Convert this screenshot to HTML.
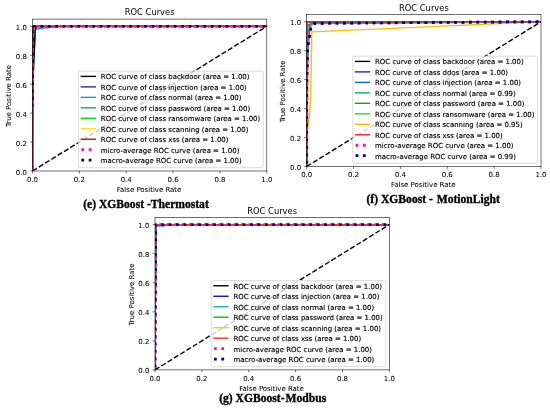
<!DOCTYPE html>
<html><head><meta charset="utf-8"><title>ROC Curves</title>
<style>html,body{margin:0;padding:0;background:#fff;}svg{display:block;}</style>
</head><body>
<svg width="550" height="409" viewBox="0 0 550 409">
<rect width="550" height="409" fill="#fff"/>
<clipPath id="ce"><rect x="32.5" y="19.1" width="234.3" height="151.9"/></clipPath>
<g clip-path="url(#ce)" fill="none" stroke-linejoin="round">
<path d="M32.5 171 L32.5 113.13 L33.44 69.73 L35.31 29.23 L46.56 27.78 L55.93 26.77 L62.96 26.33 L266.8 26.33" stroke="#0a96e8" stroke-width="1.39" stroke-linecap="square"/>
<path d="M32.5 171 L32.5 113.13 L33.44 69.73 L35.31 28.5 L37.19 26.33 L44.22 26.33" stroke="#000000" stroke-width="1.39" stroke-linecap="square"/>
<path d="M32.5 171 L32.5 26.33 L266.8 26.33" stroke="#fae600" stroke-width="1.39" stroke-linecap="square"/>
<path d="M32.5 171 L32.5 26.33 L266.8 26.33" stroke="#00e600" stroke-width="1.39" stroke-linecap="square"/>
<path d="M32.5 171 L32.97 84.2 L33.44 27.06 L37.19 26.33 L266.8 26.33" stroke="#14aa46" stroke-width="1.39" stroke-linecap="square"/>
<path d="M32.5 171 L32.73 27.78 L33.67 26.33 L266.8 26.33" stroke="#3420b0" stroke-width="1.39" stroke-linecap="square"/>
<path d="M32.5 171 L32.5 26.33 L266.8 26.33" stroke="#f00000" stroke-width="1.39" stroke-linecap="square"/>
<path d="M32.5 171 L32.5 26.33 L266.8 26.33" stroke="#ff1493" stroke-width="2.78" stroke-dasharray="2.8 4.61" stroke-dashoffset="5.81"/>
<path d="M32.5 105.9 L32.5 26.33 L266.8 26.33" stroke="#000080" stroke-width="2.78" stroke-dasharray="2.8 4.61" stroke-dashoffset="1.43"/>
<path d="M32.5 171 L266.8 26.33" stroke="#000" stroke-width="1.39" stroke-dasharray="5.17 2.24"/>
</g>
<rect x="32.5" y="19.1" width="234.3" height="151.9" fill="none" stroke="#000" stroke-width="0.56"/>
<path d="M32.5 171 v2.44 M32.5 171 h-2.44 M79.36 171 v2.44 M32.5 142.07 h-2.44 M126.22 171 v2.44 M32.5 113.13 h-2.44 M173.08 171 v2.44 M32.5 84.2 h-2.44 M219.94 171 v2.44 M32.5 55.27 h-2.44 M266.8 171 v2.44 M32.5 26.33 h-2.44" stroke="#000" stroke-width="0.56" fill="none"/>
<g font-family="'DejaVu Sans', 'Liberation Sans', sans-serif" font-size="6.96" fill="#000" stroke="#000" stroke-width="0.06">
<text x="32.5" y="181.8" text-anchor="middle">0.0</text>
<text x="26.93" y="174.5" text-anchor="end">0.0</text>
<text x="79.36" y="181.8" text-anchor="middle">0.2</text>
<text x="26.93" y="145.57" text-anchor="end">0.2</text>
<text x="126.22" y="181.8" text-anchor="middle">0.4</text>
<text x="26.93" y="116.63" text-anchor="end">0.4</text>
<text x="173.08" y="181.8" text-anchor="middle">0.6</text>
<text x="26.93" y="87.7" text-anchor="end">0.6</text>
<text x="219.94" y="181.8" text-anchor="middle">0.8</text>
<text x="26.93" y="58.77" text-anchor="end">0.8</text>
<text x="266.8" y="181.8" text-anchor="middle">1.0</text>
<text x="26.93" y="29.83" text-anchor="end">1.0</text>
<text x="149.05" y="191.7" text-anchor="middle">False Positive Rate</text>
<text transform="translate(11 95.95) rotate(-90)" text-anchor="middle">True Positive Rate</text>
</g>
<text x="149.65" y="15.3" text-anchor="middle" font-family="'DejaVu Sans', 'Liberation Sans', sans-serif" font-size="8.35">ROC Curves</text>
<rect x="78.57" y="71.19" width="184.63" height="96.54" rx="1.4" fill="#fff" fill-opacity="0.8" stroke="#ccc" stroke-width="0.7"/>
<g font-family="'DejaVu Sans', 'Liberation Sans', sans-serif" font-size="6.96" fill="#000" stroke="#000" stroke-width="0.15">
<path d="M81.35 76.39 H95.27" stroke="#000000" stroke-width="1.39" fill="none" stroke-linecap="square"/>
<text x="100.84" y="79.29">ROC curve of class backdoor (area = 1.00)</text>
<path d="M81.35 86.87 H95.27" stroke="#3420b0" stroke-width="1.39" fill="none" stroke-linecap="square"/>
<text x="100.84" y="89.77">ROC curve of class injection (area = 1.00)</text>
<path d="M81.35 97.35 H95.27" stroke="#0a96e8" stroke-width="1.39" fill="none" stroke-linecap="square"/>
<text x="100.84" y="100.25">ROC curve of class normal (area = 1.00)</text>
<path d="M81.35 107.83 H95.27" stroke="#14aa46" stroke-width="1.39" fill="none" stroke-linecap="square"/>
<text x="100.84" y="110.73">ROC curve of class password (area = 1.00)</text>
<path d="M81.35 118.31 H95.27" stroke="#00e600" stroke-width="1.39" fill="none" stroke-linecap="square"/>
<text x="100.84" y="121.21">ROC curve of class ransomware (area = 1.00)</text>
<path d="M81.35 128.79 H95.27" stroke="#fae600" stroke-width="1.39" fill="none" stroke-linecap="square"/>
<text x="100.84" y="131.69">ROC curve of class scanning (area = 1.00)</text>
<path d="M81.35 139.27 H95.27" stroke="#f00000" stroke-width="1.39" fill="none" stroke-linecap="square"/>
<text x="100.84" y="142.17">ROC curve of class xss (area = 1.00)</text>
<path d="M81.35 149.75 H95.27" stroke="#ff1493" stroke-width="2.78" fill="none" stroke-dasharray="2.78 4.59"/>
<text x="100.84" y="152.65">micro-average ROC curve (area = 1.00)</text>
<path d="M81.35 160.23 H95.27" stroke="#000080" stroke-width="2.78" fill="none" stroke-dasharray="2.78 4.59"/>
<text x="100.84" y="163.13">macro-average ROC curve (area = 1.00)</text>
</g>
<text x="83.2" y="207.6" font-family="'Liberation Serif', 'Times New Roman', serif" font-weight="bold" font-size="11.6" stroke="#000" stroke-width="0.35" xml:space="preserve">(e) XGBoost -Thermostat</text>
<clipPath id="cf"><rect x="306.7" y="14.5" width="234.3" height="152"/></clipPath>
<g clip-path="url(#cf)" fill="none" stroke-linejoin="round">
<path d="M306.7 166.5 L306.7 21.74 L541 21.74" stroke="#000000" stroke-width="1.39" stroke-linecap="square"/>
<path d="M306.7 166.5 L306.7 21.74 L541 21.74" stroke="#4a14b4" stroke-width="1.39" stroke-linecap="square"/>
<path d="M306.7 166.5 L306.7 21.74 L541 21.74" stroke="#0a64e6" stroke-width="1.39" stroke-linecap="square"/>
<path d="M306.7 166.5 L306.7 21.74 L541 21.74" stroke="#14e614" stroke-width="1.39" stroke-linecap="square"/>
<path d="M306.7 166.5 L306.7 130.31 L307.5 127.56 L308.57 121.62 L309.51 114.82 L310.21 105.7 L310.68 96.58 L311.32 59.96 L311.81 31.87 L541 21.74" stroke="#fabe00" stroke-width="1.39" stroke-linecap="square"/>
<path d="M306.7 166.5 L306.7 94.12 L307.4 50.69 L310.45 25.36 L313.73 23.19 L320.76 21.74 L541 21.74" stroke="#14a014" stroke-width="1.39" stroke-linecap="square"/>
<path d="M306.7 166.5 L306.7 94.12 L309.04 26.08 L310.21 23.48 L376.99 23.19 L541 21.74" stroke="#0aaa8c" stroke-width="1.39" stroke-linecap="square"/>
<path d="M306.7 166.5 L306.7 21.74 L541 21.74" stroke="#f01e1e" stroke-width="1.39" stroke-linecap="square"/>
<path d="M306.7 166.5 L306.7 86.88 L307.64 47.8 L310.92 26.8 L314.43 23.48 L330.13 23.19 L541 21.74" stroke="#ff1493" stroke-width="2.78" stroke-dasharray="2.8 4.61" stroke-dashoffset="4.49"/>
<path d="M306.7 166.5 L307.17 36.21 L308.11 23.91" stroke="#ff1493" stroke-width="2.78" stroke-dasharray="2.8 4.61" stroke-dashoffset="0.14"/>
<path d="M306.7 166.5 L306.7 86.88 L307.64 47.8 L310.92 26.8 L314.43 23.48 L330.13 23.19 L541 21.74" stroke="#000080" stroke-width="2.78" stroke-dasharray="2.8 4.61" stroke-dashoffset="4.49"/>
<path d="M306.7 166.5 L541 21.74" stroke="#000" stroke-width="1.39" stroke-dasharray="5.17 2.24"/>
</g>
<rect x="306.7" y="14.5" width="234.3" height="152" fill="none" stroke="#000" stroke-width="0.56"/>
<path d="M306.7 166.5 v2.44 M306.7 166.5 h-2.44 M353.56 166.5 v2.44 M306.7 137.55 h-2.44 M400.42 166.5 v2.44 M306.7 108.6 h-2.44 M447.28 166.5 v2.44 M306.7 79.64 h-2.44 M494.14 166.5 v2.44 M306.7 50.69 h-2.44 M541 166.5 v2.44 M306.7 21.74 h-2.44" stroke="#000" stroke-width="0.56" fill="none"/>
<g font-family="'DejaVu Sans', 'Liberation Sans', sans-serif" font-size="6.96" fill="#000" stroke="#000" stroke-width="0.06">
<text x="306.7" y="177.3" text-anchor="middle">0.0</text>
<text x="301.13" y="170" text-anchor="end">0.0</text>
<text x="353.56" y="177.3" text-anchor="middle">0.2</text>
<text x="301.13" y="141.05" text-anchor="end">0.2</text>
<text x="400.42" y="177.3" text-anchor="middle">0.4</text>
<text x="301.13" y="112.1" text-anchor="end">0.4</text>
<text x="447.28" y="177.3" text-anchor="middle">0.6</text>
<text x="301.13" y="83.14" text-anchor="end">0.6</text>
<text x="494.14" y="177.3" text-anchor="middle">0.8</text>
<text x="301.13" y="54.19" text-anchor="end">0.8</text>
<text x="541" y="177.3" text-anchor="middle">1.0</text>
<text x="301.13" y="25.24" text-anchor="end">1.0</text>
<text x="423.25" y="187.2" text-anchor="middle">False Positive Rate</text>
<text transform="translate(285.2 91.4) rotate(-90)" text-anchor="middle">True Positive Rate</text>
</g>
<text x="423.85" y="10.7" text-anchor="middle" font-family="'DejaVu Sans', 'Liberation Sans', sans-serif" font-size="8.35">ROC Curves</text>
<rect x="352.77" y="56.21" width="184.63" height="107.02" rx="1.4" fill="#fff" fill-opacity="0.8" stroke="#ccc" stroke-width="0.7"/>
<g font-family="'DejaVu Sans', 'Liberation Sans', sans-serif" font-size="6.96" fill="#000" stroke="#000" stroke-width="0.15">
<path d="M355.55 61.41 H369.47" stroke="#000000" stroke-width="1.39" fill="none" stroke-linecap="square"/>
<text x="375.04" y="64.31">ROC curve of class backdoor (area = 1.00)</text>
<path d="M355.55 71.89 H369.47" stroke="#4a14b4" stroke-width="1.39" fill="none" stroke-linecap="square"/>
<text x="375.04" y="74.79">ROC curve of class ddos (area = 1.00)</text>
<path d="M355.55 82.37 H369.47" stroke="#0a64e6" stroke-width="1.39" fill="none" stroke-linecap="square"/>
<text x="375.04" y="85.27">ROC curve of class injection (area = 1.00)</text>
<path d="M355.55 92.85 H369.47" stroke="#0aaa8c" stroke-width="1.39" fill="none" stroke-linecap="square"/>
<text x="375.04" y="95.75">ROC curve of class normal (area = 0.99)</text>
<path d="M355.55 103.33 H369.47" stroke="#14a014" stroke-width="1.39" fill="none" stroke-linecap="square"/>
<text x="375.04" y="106.23">ROC curve of class password (area = 1.00)</text>
<path d="M355.55 113.81 H369.47" stroke="#14e614" stroke-width="1.39" fill="none" stroke-linecap="square"/>
<text x="375.04" y="116.71">ROC curve of class ransomware (area = 1.00)</text>
<path d="M355.55 124.29 H369.47" stroke="#fabe00" stroke-width="1.39" fill="none" stroke-linecap="square"/>
<text x="375.04" y="127.19">ROC curve of class scanning (area = 0.95)</text>
<path d="M355.55 134.77 H369.47" stroke="#f01e1e" stroke-width="1.39" fill="none" stroke-linecap="square"/>
<text x="375.04" y="137.67">ROC curve of class xss (area = 1.00)</text>
<path d="M355.55 145.25 H369.47" stroke="#ff1493" stroke-width="2.78" fill="none" stroke-dasharray="2.78 4.59"/>
<text x="375.04" y="148.15">micro-average ROC curve (area = 1.00)</text>
<path d="M355.55 155.73 H369.47" stroke="#000080" stroke-width="2.78" fill="none" stroke-dasharray="2.78 4.59"/>
<text x="375.04" y="158.63">macro-average ROC curve (area = 0.99)</text>
</g>
<text x="366.5" y="202.6" font-family="'Liberation Serif', 'Times New Roman', serif" font-weight="bold" font-size="11.6" stroke="#000" stroke-width="0.35" xml:space="preserve">(f) XGBoost - <tspan dx="1">MotionLight</tspan></text>
<clipPath id="cg"><rect x="155" y="217.4" width="234.3" height="152.5"/></clipPath>
<g clip-path="url(#cg)" fill="none" stroke-linejoin="round">
<path d="M155 369.9 L155.7 226.11 L164.37 226.11 L165.54 224.66 L389.3 224.66" stroke="#14aad2" stroke-width="1.39" stroke-linecap="square"/>
<path d="M155 369.9 L155.7 224.66 L389.3 224.66" stroke="#b4f000" stroke-width="1.39" stroke-linecap="square"/>
<path d="M155 369.9 L155.7 224.66 L389.3 224.66" stroke="#0a0ac8" stroke-width="1.39" stroke-linecap="square"/>
<path d="M155 369.9 L155.7 224.66 L389.3 224.66" stroke="#000000" stroke-width="1.39" stroke-linecap="square"/>
<path d="M155 369.9 L155.7 224.66 L389.3 224.66" stroke="#0abe0a" stroke-width="1.39" stroke-linecap="square"/>
<path d="M155 369.9 L155 224.66 L389.3 224.66" stroke="#fa3214" stroke-width="1.39" stroke-linecap="square"/>
<path d="M155 369.9 L155.7 224.66 L389.3 224.66" stroke="#ff1493" stroke-width="2.78" stroke-dasharray="2.8 4.61" stroke-dashoffset="6.64"/>
<path d="M155 369.9 L155.7 224.66 L389.3 224.66" stroke="#000080" stroke-width="2.78" stroke-dasharray="2.8 4.61" stroke-dashoffset="4.84"/>
<path d="M155 369.9 L389.3 224.66" stroke="#000" stroke-width="1.39" stroke-dasharray="5.17 2.24"/>
</g>
<rect x="155" y="217.4" width="234.3" height="152.5" fill="none" stroke="#000" stroke-width="0.56"/>
<path d="M155 369.9 v2.44 M155 369.9 h-2.44 M201.86 369.9 v2.44 M155 340.85 h-2.44 M248.72 369.9 v2.44 M155 311.8 h-2.44 M295.58 369.9 v2.44 M155 282.76 h-2.44 M342.44 369.9 v2.44 M155 253.71 h-2.44 M389.3 369.9 v2.44 M155 224.66 h-2.44" stroke="#000" stroke-width="0.56" fill="none"/>
<g font-family="'DejaVu Sans', 'Liberation Sans', sans-serif" font-size="6.96" fill="#000" stroke="#000" stroke-width="0.06">
<text x="155" y="380.7" text-anchor="middle">0.0</text>
<text x="149.43" y="373.4" text-anchor="end">0.0</text>
<text x="201.86" y="380.7" text-anchor="middle">0.2</text>
<text x="149.43" y="344.35" text-anchor="end">0.2</text>
<text x="248.72" y="380.7" text-anchor="middle">0.4</text>
<text x="149.43" y="315.3" text-anchor="end">0.4</text>
<text x="295.58" y="380.7" text-anchor="middle">0.6</text>
<text x="149.43" y="286.26" text-anchor="end">0.6</text>
<text x="342.44" y="380.7" text-anchor="middle">0.8</text>
<text x="149.43" y="257.21" text-anchor="end">0.8</text>
<text x="389.3" y="380.7" text-anchor="middle">1.0</text>
<text x="149.43" y="228.16" text-anchor="end">1.0</text>
<text x="271.55" y="390.6" text-anchor="middle">False Positive Rate</text>
<text transform="translate(133.5 294.55) rotate(-90)" text-anchor="middle">True Positive Rate</text>
</g>
<text x="272.15" y="213.6" text-anchor="middle" font-family="'DejaVu Sans', 'Liberation Sans', sans-serif" font-size="8.35">ROC Curves</text>
<rect x="211.17" y="280.57" width="174.53" height="86.06" rx="1.4" fill="#fff" fill-opacity="0.8" stroke="#ccc" stroke-width="0.7"/>
<g font-family="'DejaVu Sans', 'Liberation Sans', sans-serif" font-size="6.96" fill="#000" stroke="#000" stroke-width="0.15">
<path d="M213.96 285.77 H227.88" stroke="#000000" stroke-width="1.39" fill="none" stroke-linecap="square"/>
<text x="233.44" y="288.67">ROC curve of class backdoor (area = 1.00)</text>
<path d="M213.96 296.25 H227.88" stroke="#0a0ac8" stroke-width="1.39" fill="none" stroke-linecap="square"/>
<text x="233.44" y="299.15">ROC curve of class injection (area = 1.00)</text>
<path d="M213.96 306.73 H227.88" stroke="#14aad2" stroke-width="1.39" fill="none" stroke-linecap="square"/>
<text x="233.44" y="309.63">ROC curve of class normal (area = 1.00)</text>
<path d="M213.96 317.21 H227.88" stroke="#0abe0a" stroke-width="1.39" fill="none" stroke-linecap="square"/>
<text x="233.44" y="320.11">ROC curve of class password (area = 1.00)</text>
<path d="M213.96 327.69 H227.88" stroke="#b4f000" stroke-width="1.39" fill="none" stroke-linecap="square"/>
<text x="233.44" y="330.59">ROC curve of class scanning (area = 1.00)</text>
<path d="M213.96 338.17 H227.88" stroke="#fa3214" stroke-width="1.39" fill="none" stroke-linecap="square"/>
<text x="233.44" y="341.07">ROC curve of class xss (area = 1.00)</text>
<path d="M213.96 348.65 H227.88" stroke="#ff1493" stroke-width="2.78" fill="none" stroke-dasharray="2.78 4.59"/>
<text x="233.44" y="351.55">micro-average ROC curve (area = 1.00)</text>
<path d="M213.96 359.13 H227.88" stroke="#000080" stroke-width="2.78" fill="none" stroke-dasharray="2.78 4.59"/>
<text x="233.44" y="362.03">macro-average ROC curve (area = 1.00)</text>
</g>
<text x="219.2" y="402.1" font-family="'Liberation Serif', 'Times New Roman', serif" font-weight="bold" font-size="11.6" stroke="#000" stroke-width="0.35" xml:space="preserve">(g) XGBoost-<tspan dx="1">Modbus</tspan></text>
</svg>
</body></html>
